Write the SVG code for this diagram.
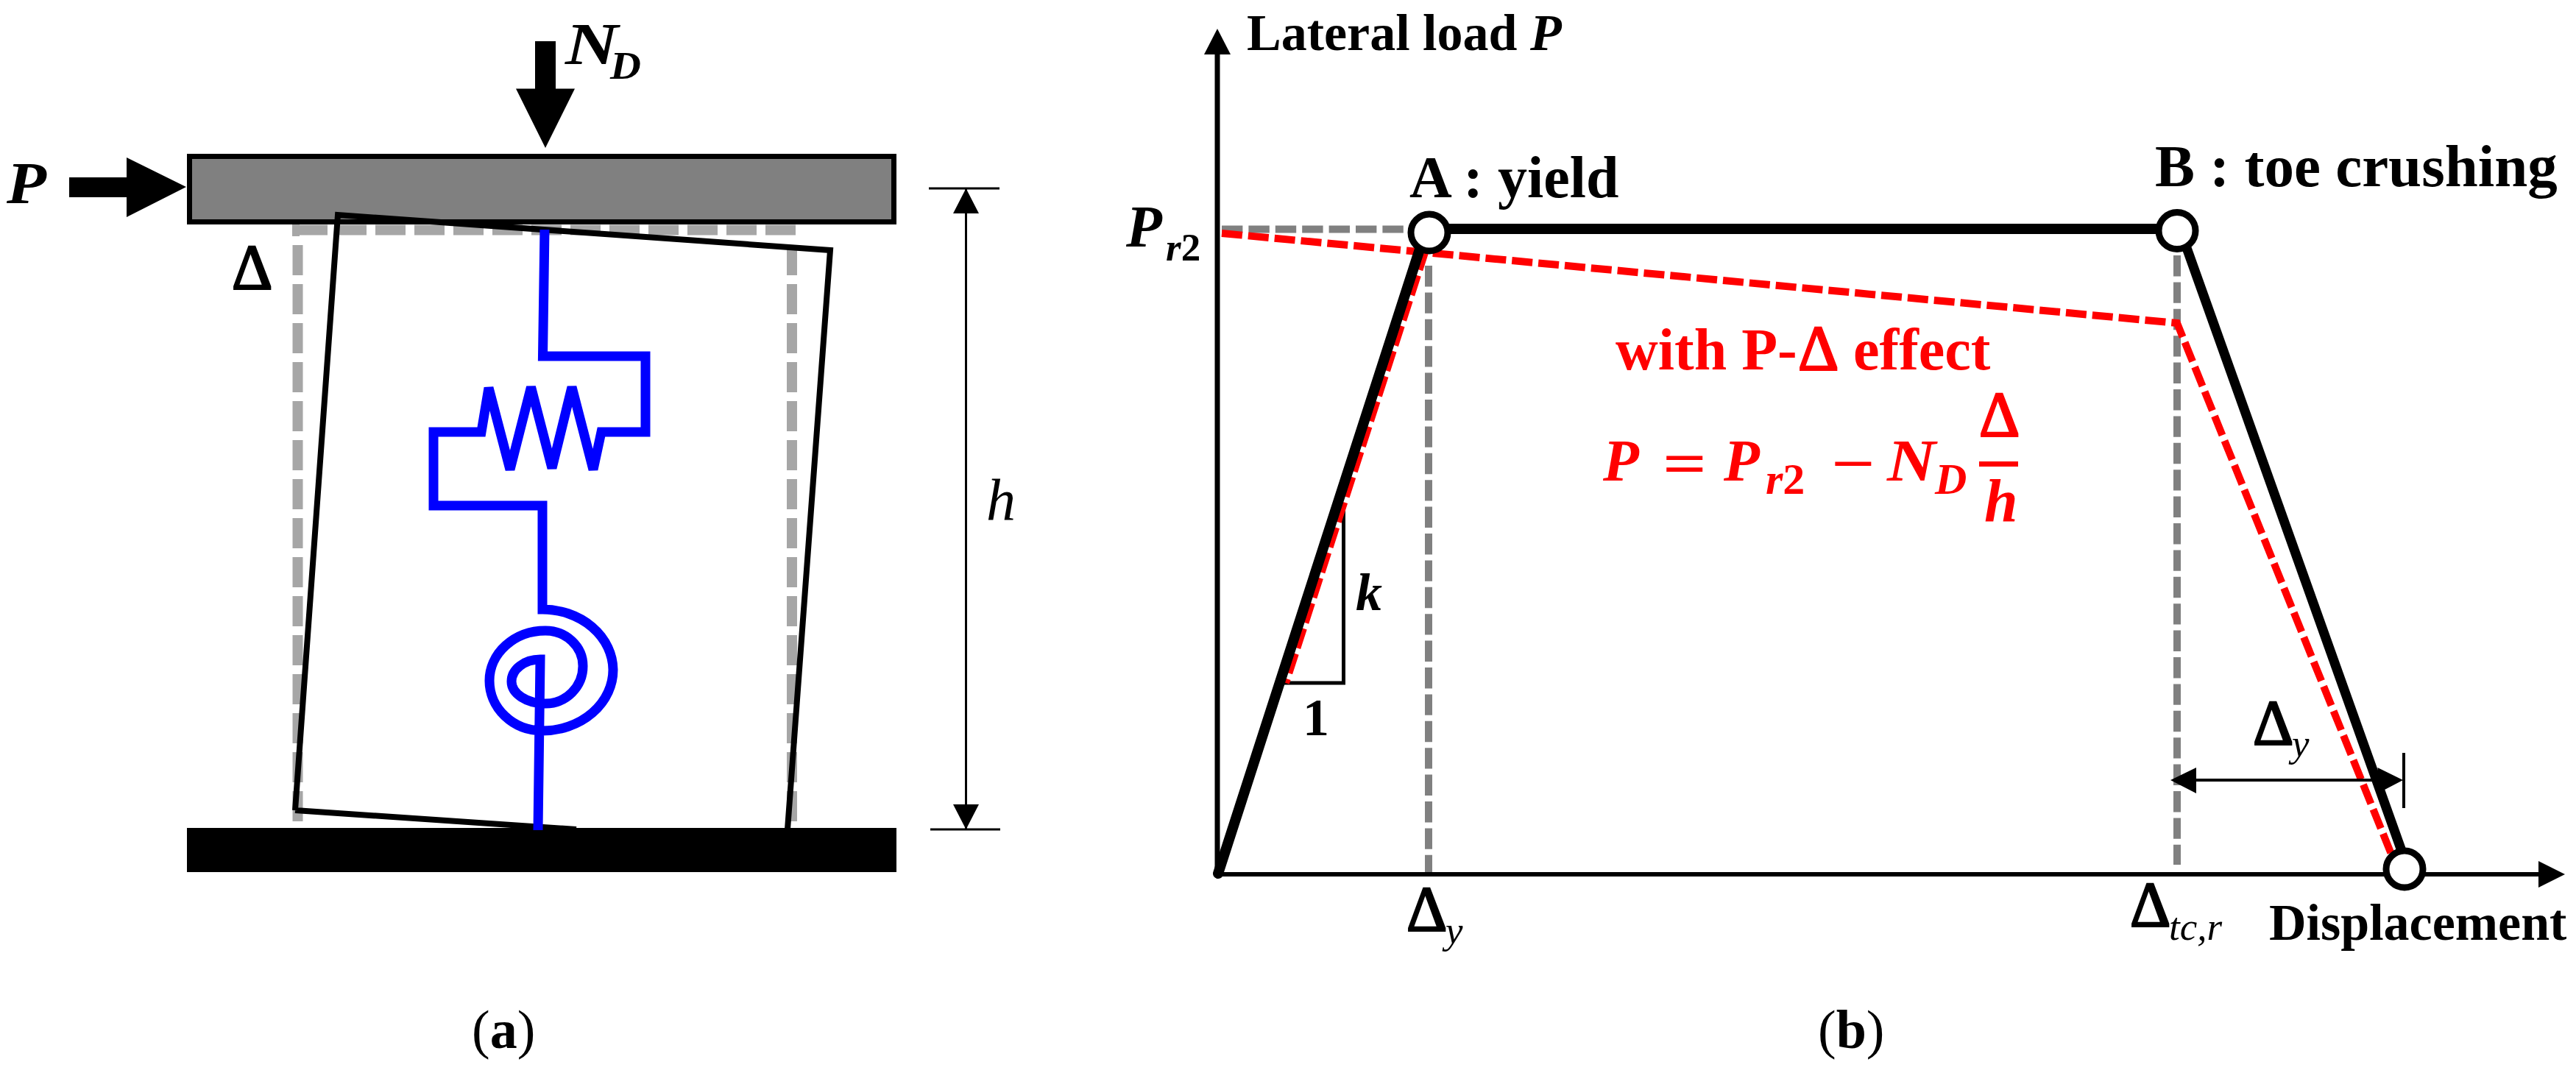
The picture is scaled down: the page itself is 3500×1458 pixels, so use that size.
<svg xmlns="http://www.w3.org/2000/svg" width="3500" height="1458" viewBox="0 0 3500 1458">
<style>
text{font-family:"Liberation Serif","Times New Roman",serif;fill:#000}
.b{font-weight:bold}.i{font-style:italic}.bi{font-weight:bold;font-style:italic}
.r{fill:#f00}
.s80{font-size:80px}.s70{font-size:70px}.s53{font-size:53px}.s60{font-size:60px}
.d{font-size:86px;stroke:#000;stroke-width:2.500}
.dr{font-size:86px;stroke:#f00;stroke-width:2.500;fill:#f00}
.ln{fill:none;stroke:#000}
.gl{fill:none;stroke:#A6A6A6;stroke-width:14;stroke-dasharray:41 12}
.gd{fill:none;stroke:#808080;stroke-width:10;stroke-dasharray:28.400 8}
.rd{fill:none;stroke:#f00;stroke-width:10;stroke-dasharray:28 8}
.bl{fill:none;stroke:#00f;stroke-width:13;stroke-miterlimit:2}
.pt{fill:#fff;stroke:#000;stroke-width:9}
</style>
<rect width="3500" height="1458" fill="#fff"/>
<g id="panel-a">
<g id="base"><rect x="254" y="1125" width="964" height="60" fill="#000"/></g>
<g id="undeformed-frame">
<rect x="397" y="305" width="10" height="16" fill="#A6A6A6"/>
<path class="gl" d="M404 312.500H1090"/>
<path class="gl" d="M404.500 333V1118"/>
<path class="gl" d="M1076 333V1118"/>
</g>
<g id="top-beam"><rect x="257.500" y="212.500" width="957" height="89" fill="#808080" stroke="#000" stroke-width="7"/></g>
<g id="deformed-frame"><path class="ln" stroke-width="8" d="M401 1101L459 292L1128 340L1070 1127M401 1101L783 1127"/></g>
<g id="spring">
<path class="bl" d="M740 312L737.500 484H877V587H817L806 638L777 526L750 636L721.500 526L693 638L664 527L654 587H589V687H737V828A96 83 0 0 1 833 910A96 83 0 0 1 737 993A72 68 0 0 1 665 925A76 68 0 0 1 741 857A51 48 0 0 1 792 905A51 51 0 0 1 741 956A46 30 0 0 1 695 926A39 30 0 0 1 734 896L731 1128"/>
</g>
<g id="load-nd">
<path d="M727 56H755V120.500H781L741 201L701 120.500H727Z"/>
<text class="bi s80" x="768" y="87" textLength="72" lengthAdjust="spacingAndGlyphs">N</text>
<text class="bi s53" x="829" y="107" textLength="42" lengthAdjust="spacingAndGlyphs">D</text>
</g>
<g id="load-p">
<path d="M94 241H172V214L253 254L172 295V268H94Z"/>
<text class="bi s80" x="9" y="276" textLength="54" lengthAdjust="spacingAndGlyphs">P</text>
</g>
<g id="drift-label"><text class="d" x="315" y="392">Δ</text></g>
<g id="height-dim">
<path class="ln" stroke-width="3" d="M1262 256H1358M1264 1127H1359M1312.500 256V1127"/>
<path d="M1312.500 256L1330 290H1295ZM1312.500 1127L1330 1093H1295Z"/>
<text class="i s80" x="1340" y="706">h</text>
</g>
<g id="caption-a"><text font-size="74" x="641" y="1424">(<tspan class="b">a</tspan>)</text></g>
</g>
<g id="panel-b">
<g id="connectors">
<path class="gd" d="M1660 311.500H1925"/>
<path class="gd" d="M1941 361V1188"/>
<path class="gd" d="M2958 347V1175"/>
<path class="ln" stroke-width="5" d="M1825.500 690V928H1745"/>
<path class="rd" d="M1660 317L2958 439L3250 1163"/>
<path class="rd" d="M1937 340L1747 928"/>
<path class="ln" stroke-width="7" d="M1654 1190V70"/>
<path d="M1654 39L1672 74H1636Z"/>
<path class="ln" stroke-width="6" d="M1654 1188H3450"/>
<path d="M3485 1188L3449 1170V1206Z"/>
<path class="ln" stroke-width="14" stroke-linecap="round" d="M1655 1187L1935 320"/>
<path class="ln" stroke-width="14" d="M1942 311H2958"/>
<path class="ln" stroke-width="4" d="M2980 1060H3235"/>
<path d="M2949 1060L2984 1043V1078ZM3265 1060L3230.500 1043V1078Z"/>
<path class="ln" stroke-width="13" d="M2965 320L3268 1170"/>
<path class="ln" stroke-width="4" d="M3266 1023V1098"/>
</g>
<g id="point-a"><circle class="pt" cx="1942" cy="316" r="25"/><text class="b s80" x="1915" y="268">A : yield</text></g>
<g id="point-b"><circle class="pt" cx="2958" cy="313.500" r="25"/><text class="b" font-size="81" x="2928" y="253">B : toe crushing</text></g>
<g id="point-end"><circle class="pt" cx="3267" cy="1181" r="25"/></g>
<g id="axis-labels">
<text class="b s70" x="1694" y="68">Lateral load <tspan class="i">P</tspan></text>
<text class="b s70" x="3083" y="1277">Displacement</text>
<text class="bi s80" x="1530" y="335">P</text>
<text class="bi s53" x="1584" y="354">r<tspan class="b" font-style="normal">2</tspan></text>
<text class="bi" font-size="72" x="1842" y="829">k</text>
<text class="b" font-size="72" x="1770" y="999">1</text>
<text class="d" x="1911" y="1264">Δ</text><text class="i s53" x="1964" y="1282">y</text>
<text class="d" x="2894" y="1258">Δ</text><text class="i s53" x="2947" y="1277">tc,r</text>
<text class="d" x="3061" y="1011">Δ</text><text class="i s53" x="3114" y="1028">y</text>
</g>
<g id="p-delta-label">
<text class="b s80 r" x="2195" y="502">with P-<tspan class="dr" font-weight="normal" x="2443">Δ</tspan><tspan x="2518">effect</tspan></text>
<text class="bi s80 r" x="2178" y="653">P</text>
<text class="b s80 r" x="2259" y="657" textLength="60" lengthAdjust="spacingAndGlyphs">=</text>
<text class="bi s80 r" x="2342" y="653">P</text>
<text class="bi s60 r" x="2399" y="671">r<tspan class="b" font-style="normal">2</tspan></text>
<text class="b s80 r" x="2488" y="657" textLength="60" lengthAdjust="spacingAndGlyphs">−</text>
<text class="bi s80 r" x="2564" y="653" textLength="66" lengthAdjust="spacingAndGlyphs">N</text>
<text class="bi s60 r" x="2629" y="671">D</text>
<text class="dr" x="2689" y="592">Δ</text>
<rect x="2689" y="627" width="53" height="7" fill="#f00"/>
<text class="bi r" font-size="82" x="2696" y="708">h</text>
</g>
<g id="caption-b"><text font-size="74" x="2470" y="1424">(<tspan class="b">b</tspan>)</text></g>
</g>
</svg>
